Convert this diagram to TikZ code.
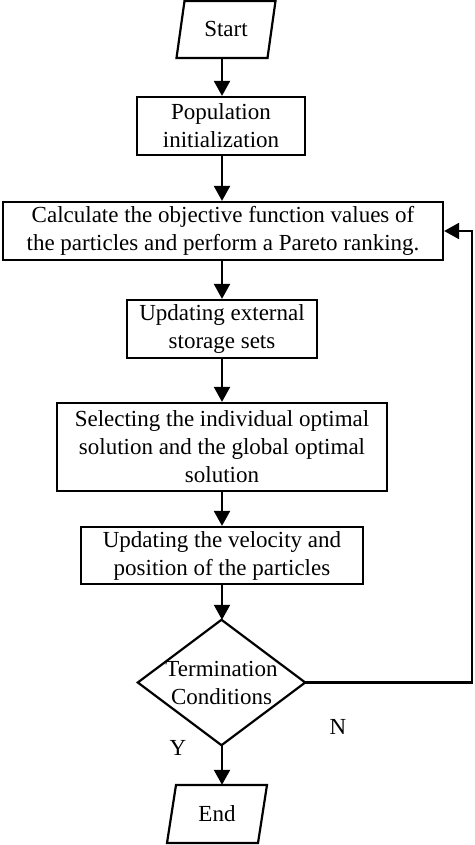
\documentclass[tikz,border=0pt]{standalone}
\usepackage{fontspec}
\setmainfont{Liberation Serif}
\usetikzlibrary{arrows.meta,calc}
\begin{document}
\begin{tikzpicture}[x=1pt,y=-1pt,
  every node/.style={font=\fontsize{23}{28}\selectfont, align=center, inner sep=0pt},
  box/.style={draw, line width=2.2pt, rectangle},
  ghost/.style={rectangle},
  arr/.style={line width=2.2pt, -{Triangle[length=15pt,width=16pt]}},
  shapeline/.style={line width=2.2pt}]
\useasboundingbox (0,0) rectangle (474,845);
\coordinate (axis) at (222,0);
% nodes
\node[ghost, minimum width=91pt, minimum height=57pt] (start) at (226,29.5) {Start};
\node[box, minimum width=168pt, minimum height=58pt] (pop) at (221,126) {Population\\initialization};
\node[box, minimum width=440pt, minimum height=58pt] (calc) at (223,231) {Calculate the objective function values of\\the particles and perform a Pareto ranking.};
\node[box, minimum width=190pt, minimum height=58pt] (ext) at (222,329) {Updating external\\storage sets};
\node[box, minimum width=330pt, minimum height=88pt] (sel) at (222,447) {Selecting the individual optimal\\solution and the global optimal\\solution};
\node[box, minimum width=282pt, minimum height=57pt] (vel) at (222,555.5) {Updating the velocity and\\position of the particles};
\node[ghost, minimum width=167pt, minimum height=125pt] (term) at (221.5,682.5) {Termination\\Conditions};
\node[ghost, minimum width=91pt, minimum height=58pt] (end) at (217,814) {End};
\node (ylab) at (178,748) {Y};
\node (nlab) at (338,727) {N};
% outlines
\draw[shapeline] ($(start.center)+(-41.5,-28.5)$) -- ($(start.center)+(49.5,-28.5)$) -- ($(start.center)+(41.5,28.5)$) -- ($(start.center)+(-49.5,28.5)$) -- cycle;
\draw[shapeline] ($(end.center)+(-41,-29)$) -- ($(end.center)+(50,-29)$) -- ($(end.center)+(41,29)$) -- ($(end.center)+(-50,29)$) -- cycle;
\draw[shapeline] (term.north) -- (term.east) -- (term.south) -- (term.west) -- cycle;
% connectors
\draw[arr] (start.south -| axis) -- (pop.north -| axis);
\draw[arr] (pop.south -| axis) -- (calc.north -| axis);
\draw[arr] (calc.south -| axis) -- (ext.north -| axis);
\draw[arr] (ext.south -| axis) -- (sel.north -| axis);
\draw[arr] (sel.south -| axis) -- (vel.north -| axis);
\draw[arr] (vel.south -| axis) -- (term.north -| axis);
\draw[arr] (term.south -| axis) -- (end.north -| axis);
\coordinate (fb) at (472,682.5);
\draw[arr] (term.east) -- (fb) |- (calc.east);
\end{tikzpicture}
\end{document}
